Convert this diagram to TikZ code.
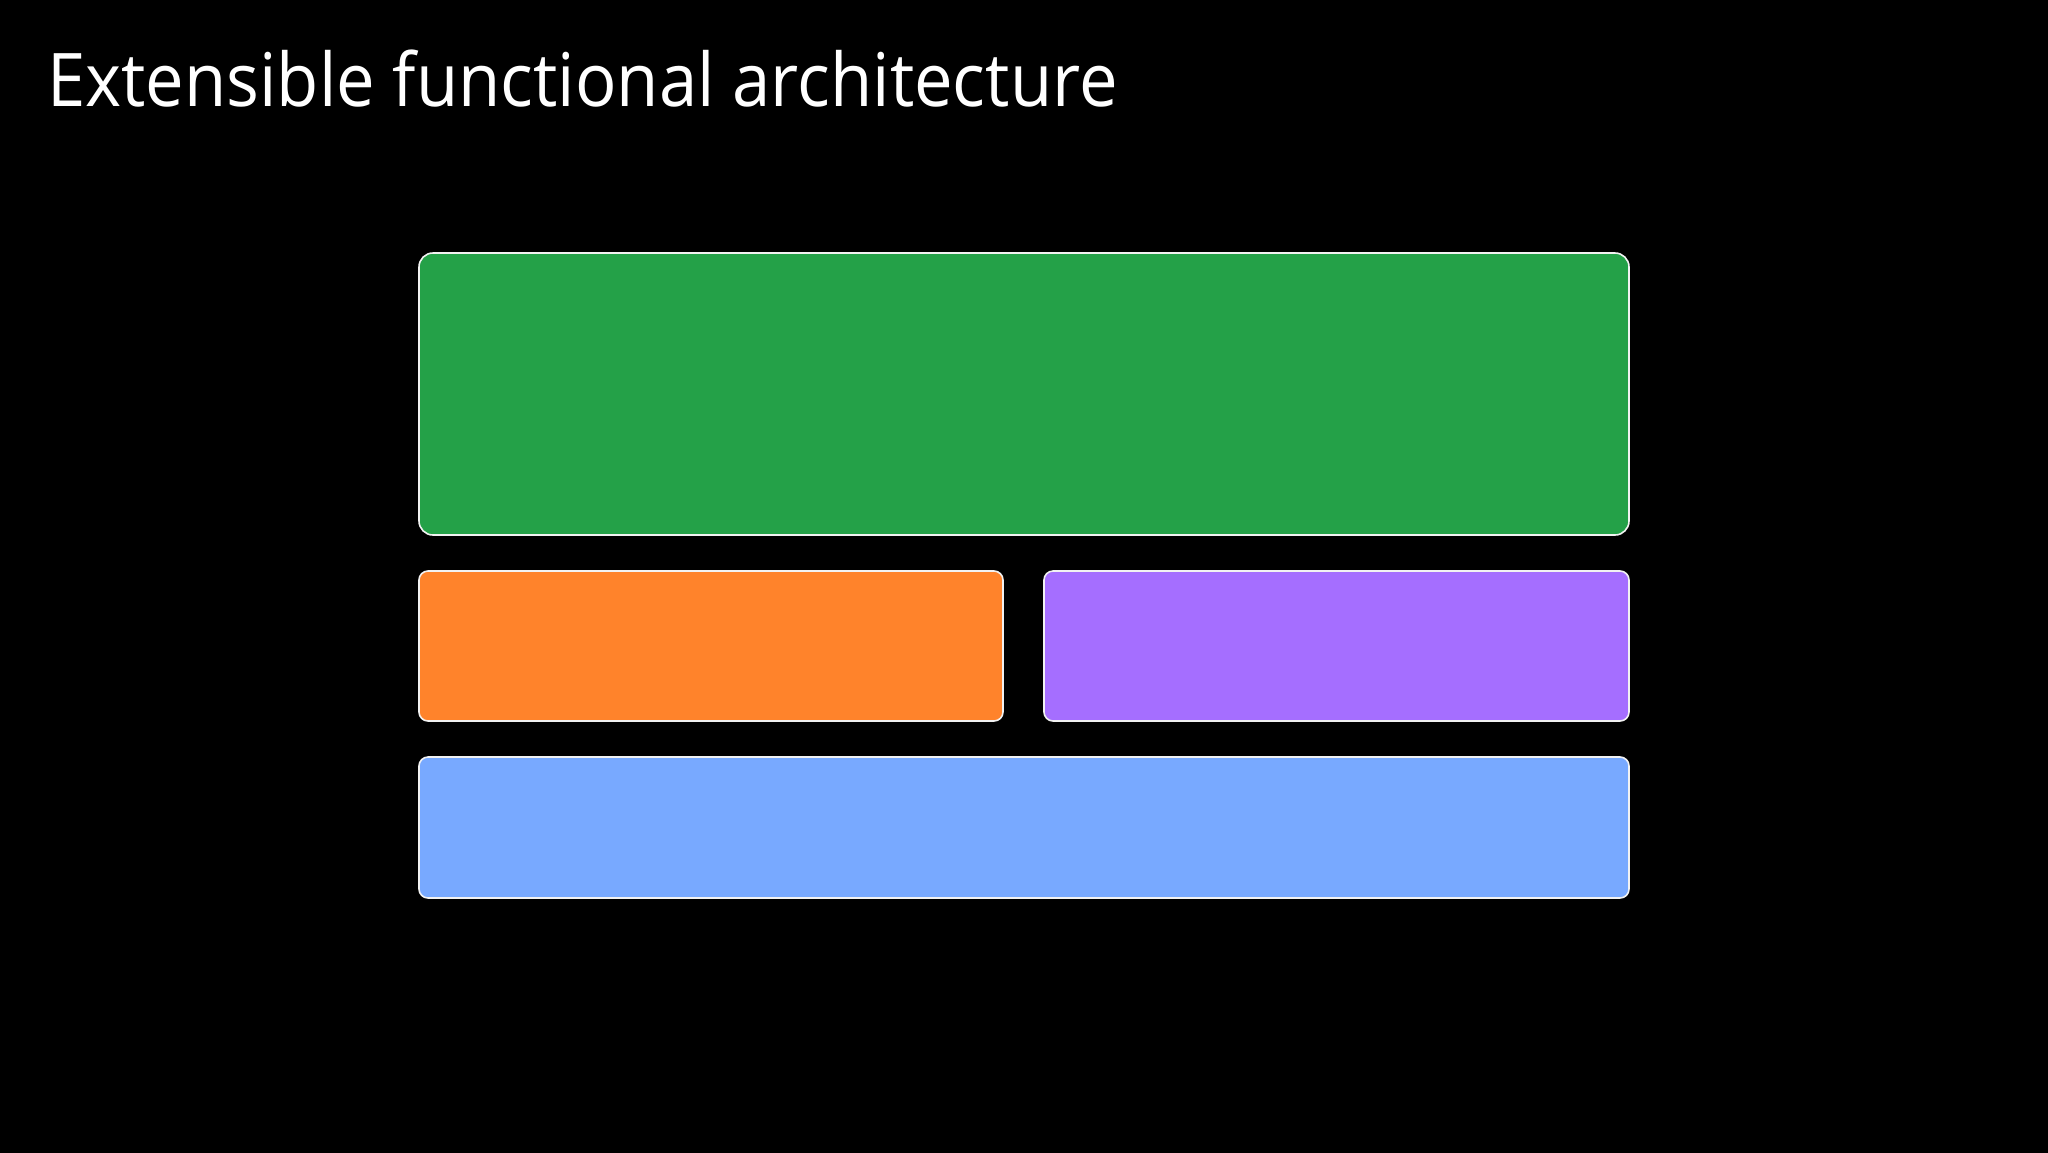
\documentclass[tikz,border=0pt]{standalone}
\usepackage{fontspec}
\setmainfont{Open Sans}
\definecolor{cgreen}{HTML}{24A148}
\definecolor{corange}{HTML}{FF832B}
\definecolor{cpurple}{HTML}{A56EFF}
\definecolor{cblue}{HTML}{78A9FF}
\definecolor{cedge}{HTML}{F2F2F2}
\tikzset{
  block/.style={draw=cedge, line width=1.6pt, rounded corners=#1},
  block/.default=9pt
}
\begin{document}
\begin{tikzpicture}[x=1pt,y=-1pt]
\useasboundingbox (0,0) rectangle (2048,1152);
\fill[black] (-5,-5) rectangle (2053,1157);
\node[anchor=base west, inner sep=0pt, text=white, xscale=0.93, transform shape, font=\fontsize{74}{88}\selectfont] (title) at (47,106) {Extensible functional architecture};
\path[block=14pt, fill=cgreen] (419,253) rectangle (1629,535);
\path[block, fill=corange] (419,571) rectangle (1003,721);
\path[block, fill=cpurple] (1044,571) rectangle (1629,721);
\path[block, fill=cblue] (419,757) rectangle (1629,898);
\end{tikzpicture}
\end{document}
